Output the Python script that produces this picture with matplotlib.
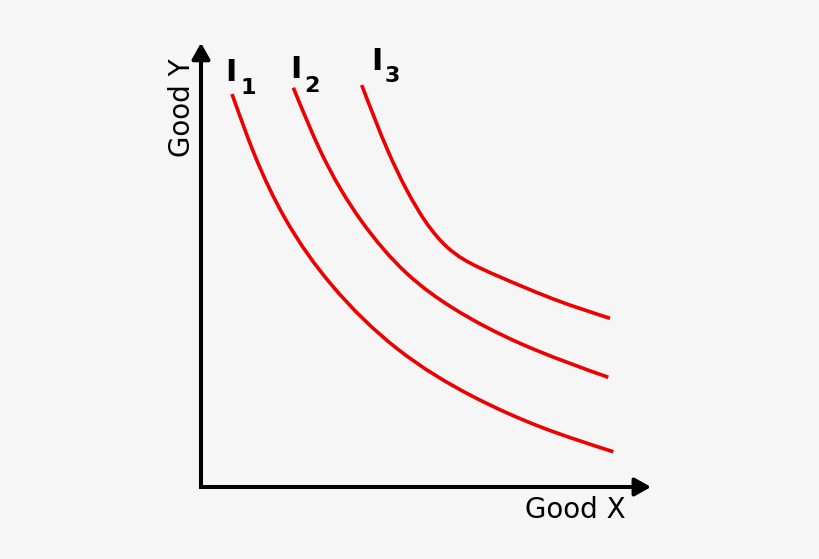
import numpy as np
import matplotlib
matplotlib.use("Agg")
import matplotlib.pyplot as plt
from matplotlib.path import Path
from matplotlib.patches import PathPatch

# indifference curves (x = good X, y = good Y)
i1_x = [0.689, 1.162, 1.867, 2.904, 4.349, 6.051, 7.533, 9.162]
i1_y = [8.733, 7.451, 5.971, 4.489, 3.082, 2.007, 1.340, 0.784]

i2_x = [2.051, 2.644, 3.533, 4.571, 5.607, 7.089, 9.051]
i2_y = [8.873, 7.489, 5.956, 4.749, 3.971, 3.193, 2.438]

i3_x = [3.571, 4.162, 4.571, 5.016, 5.460, 5.822, 6.200, 7.089, 7.829, 9.089]
i3_y = [8.933, 7.451, 6.600, 5.860, 5.340, 5.067, 4.867, 4.478, 4.178, 3.749]

curve_names = ["1", "2", "3"]
x_label = "Good X"
y_label = "Good Y"


def smooth_path(xs, ys):
    # natural cubic spline through the read points, written out as the
    # equivalent bezier segments so matplotlib draws the exact curve
    x = np.asarray(xs, float)
    y = np.asarray(ys, float)
    n = len(x)
    h = np.diff(x)
    d = np.diff(y) / h
    A = np.zeros((n, n))
    r = np.zeros(n)
    A[0, 0] = A[-1, -1] = 1.0
    for k in range(1, n - 1):
        A[k, k - 1] = h[k - 1]
        A[k, k] = 2 * (h[k - 1] + h[k])
        A[k, k + 1] = h[k]
        r[k] = 6 * (d[k] - d[k - 1])
    M = np.linalg.solve(A, r)
    m = np.empty(n)
    m[:-1] = d - h * (2 * M[:-1] + M[1:]) / 6
    m[-1] = d[-1] + h[-1] * (M[-2] + 2 * M[-1]) / 6
    verts = [(x[0], y[0])]
    codes = [Path.MOVETO]
    for k in range(n - 1):
        t = h[k] / 3.0
        verts += [(x[k] + t, y[k] + t * m[k]),
                  (x[k + 1] - t, y[k + 1] - t * m[k + 1]),
                  (x[k + 1], y[k + 1])]
        codes += [Path.CURVE4] * 3
    return Path(verts, codes)


bg = "#f6f6f6"
fig = plt.figure(figsize=(8.2, 5.59), dpi=100, facecolor=bg)
ax = fig.add_axes([0, 0, 1, 1])
ax.set_facecolor(bg)
ax.set_xlim(-201 / 45, 619 / 45)
ax.set_ylim(-72 / 45, 487 / 45)
ax.axis("off")

# axes drawn as an L with arrow heads
ax.plot([0, 0, 9.7], [9.6, 0, 0], color="black", lw=2.9,
        solid_joinstyle="miter", solid_capstyle="butt")
arrow = dict(arrowstyle="-|>,head_length=0.8,head_width=0.45", lw=2.9,
             color="black", shrinkA=0, shrinkB=0, mutation_scale=12)
ax.annotate("", xy=(10.0, 0), xytext=(9.5, 0), arrowprops=arrow)
ax.annotate("", xy=(0, 9.87), xytext=(0, 9.4), arrowprops=arrow)

for xs, ys in [(i1_x, i1_y), (i2_x, i2_y), (i3_x, i3_y)]:
    ax.add_patch(PathPatch(smooth_path(xs, ys), fill=False, ec="#ee0000",
                           lw=2.6, capstyle="butt"))

# curve labels I1, I2, I3
label_pos = [((0.667, 9.02), (1.044, 8.73)),
             ((2.11, 9.09), (2.47, 8.78)),
             ((3.91, 9.27), (4.24, 9.00))]
for name, (ipos, spos) in zip(curve_names, label_pos):
    ax.text(ipos[0], ipos[1], "I", fontsize=22, fontweight="bold",
            ha="center", va="baseline")
    ax.text(spos[0], spos[1], name, fontsize=16, fontweight="bold",
            ha="center", va="baseline")

ax.text(8.31, -0.69, x_label, fontsize=20, ha="center", va="baseline")
ax.text(-0.42, 8.44, y_label, fontsize=20, ha="center", va="center",
        rotation=90)

fig.savefig("out.png", dpi=100, facecolor=bg)
